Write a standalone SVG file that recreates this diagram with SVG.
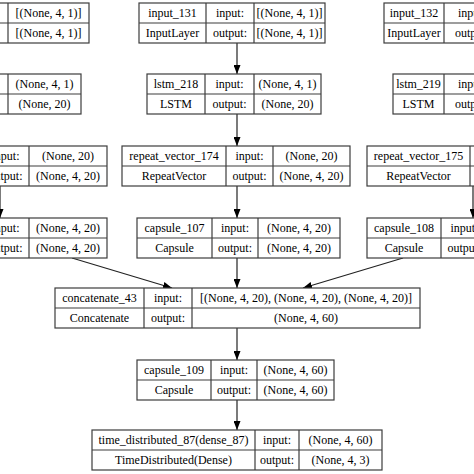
<svg xmlns="http://www.w3.org/2000/svg" width="474" height="474" viewBox="0 0 474 474">
<style>
.b{fill:#fff;stroke:#3c3c3c;stroke-width:1.2}
.d{stroke:#3c3c3c;stroke-width:1.2}
.t{font-family:"Liberation Serif","Times New Roman",serif;font-size:12px;text-anchor:middle;fill:#000}
.e{stroke:#222;stroke-width:1.2;fill:none}
</style>
<defs>
<marker id="ah" viewBox="0 0 9 7" refX="9" refY="3.5" markerWidth="9" markerHeight="7" markerUnits="userSpaceOnUse" orient="auto">
<path d="M0,0 L9,3.5 L0,7 z" fill="#000"/>
</marker>
</defs>
<rect width="474" height="474" fill="#fff"/>
<g id="connectors">
<line class="e" x1="237" y1="43" x2="237" y2="74" marker-end="url(#ah)"/>
<line class="e" x1="237" y1="114" x2="237" y2="146" marker-end="url(#ah)"/>
<line class="e" x1="237" y1="186" x2="237" y2="218" marker-end="url(#ah)"/>
<line class="e" x1="237" y1="258" x2="237" y2="288" marker-end="url(#ah)"/>
<line class="e" x1="237" y1="328" x2="237" y2="360" marker-end="url(#ah)"/>
<line class="e" x1="237" y1="400" x2="237" y2="430" marker-end="url(#ah)"/>
<line class="e" x1="0" y1="186" x2="0" y2="218" marker-end="url(#ah)"/>
<line class="e" x1="473" y1="186" x2="473" y2="218" marker-end="url(#ah)"/>
<line class="e" x1="72" y1="258" x2="172" y2="288" marker-end="url(#ah)"/>
<line class="e" x1="403" y1="258" x2="303" y2="288" marker-end="url(#ah)"/>
</g>
<g id="input_130">
<rect class="b" x="-190" y="3" width="279" height="40"/>
<line class="d" x1="-190" y1="23" x2="89" y2="23"/>
<line class="d" x1="8" y1="3" x2="8" y2="43"/>
<text class="t" x="48.5" y="17">[(None, 4, 1)]</text>
<text class="t" x="48.5" y="37">[(None, 4, 1)]</text>
</g>
<g id="lstm_217">
<rect class="b" x="-190" y="74" width="271" height="40"/>
<line class="d" x1="-190" y1="94" x2="81" y2="94"/>
<line class="d" x1="8" y1="74" x2="8" y2="114"/>
<text class="t" x="44.5" y="88">(None, 4, 1)</text>
<text class="t" x="44.5" y="108">(None, 20)</text>
</g>
<g id="repeat_vector_173">
<rect class="b" x="-190" y="146" width="297" height="40"/>
<line class="d" x1="-190" y1="166" x2="107" y2="166"/>
<line class="d" x1="-18" y1="146" x2="-18" y2="186"/>
<line class="d" x1="29" y1="146" x2="29" y2="186"/>
<text class="t" x="5.5" y="160">input:</text>
<text class="t" x="5.5" y="180">output:</text>
<text class="t" x="68" y="160">(None, 20)</text>
<text class="t" x="68" y="180">(None, 4, 20)</text>
</g>
<g id="capsule_106">
<rect class="b" x="-190" y="218" width="297" height="40"/>
<line class="d" x1="-190" y1="238" x2="107" y2="238"/>
<line class="d" x1="-18" y1="218" x2="-18" y2="258"/>
<line class="d" x1="29" y1="218" x2="29" y2="258"/>
<text class="t" x="5.5" y="232">input:</text>
<text class="t" x="5.5" y="252">output:</text>
<text class="t" x="68" y="232">(None, 4, 20)</text>
<text class="t" x="68" y="252">(None, 4, 20)</text>
</g>
<g id="input_131">
<rect class="b" x="139" y="3" width="186" height="40"/>
<line class="d" x1="139" y1="23" x2="325" y2="23"/>
<line class="d" x1="206" y1="3" x2="206" y2="43"/>
<line class="d" x1="254" y1="3" x2="254" y2="43"/>
<text class="t" x="172.5" y="17">input_131</text>
<text class="t" x="172.5" y="37">InputLayer</text>
<text class="t" x="230" y="17">input:</text>
<text class="t" x="230" y="37">output:</text>
<text class="t" x="289.5" y="17">[(None, 4, 1)]</text>
<text class="t" x="289.5" y="37">[(None, 4, 1)]</text>
</g>
<g id="lstm_218">
<rect class="b" x="147" y="74" width="174" height="40"/>
<line class="d" x1="147" y1="94" x2="321" y2="94"/>
<line class="d" x1="205" y1="74" x2="205" y2="114"/>
<line class="d" x1="254" y1="74" x2="254" y2="114"/>
<text class="t" x="176" y="88">lstm_218</text>
<text class="t" x="176" y="108">LSTM</text>
<text class="t" x="229.5" y="88">input:</text>
<text class="t" x="229.5" y="108">output:</text>
<text class="t" x="287.5" y="88">(None, 4, 1)</text>
<text class="t" x="287.5" y="108">(None, 20)</text>
</g>
<g id="repeat_vector_174">
<rect class="b" x="122" y="146" width="228" height="40"/>
<line class="d" x1="122" y1="166" x2="350" y2="166"/>
<line class="d" x1="226" y1="146" x2="226" y2="186"/>
<line class="d" x1="273" y1="146" x2="273" y2="186"/>
<text class="t" x="174" y="160">repeat_vector_174</text>
<text class="t" x="174" y="180">RepeatVector</text>
<text class="t" x="249.5" y="160">input:</text>
<text class="t" x="249.5" y="180">output:</text>
<text class="t" x="311.5" y="160">(None, 20)</text>
<text class="t" x="311.5" y="180">(None, 4, 20)</text>
</g>
<g id="capsule_107">
<rect class="b" x="137" y="218" width="203" height="40"/>
<line class="d" x1="137" y1="238" x2="340" y2="238"/>
<line class="d" x1="212" y1="218" x2="212" y2="258"/>
<line class="d" x1="258" y1="218" x2="258" y2="258"/>
<text class="t" x="174.5" y="232">capsule_107</text>
<text class="t" x="174.5" y="252">Capsule</text>
<text class="t" x="235" y="232">input:</text>
<text class="t" x="235" y="252">output:</text>
<text class="t" x="299" y="232">(None, 4, 20)</text>
<text class="t" x="299" y="252">(None, 4, 20)</text>
</g>
<g id="input_132">
<rect class="b" x="384" y="3" width="200" height="40"/>
<line class="d" x1="384" y1="23" x2="584" y2="23"/>
<line class="d" x1="444" y1="3" x2="444" y2="43"/>
<text class="t" x="414" y="17">input_132</text>
<text class="t" x="414" y="37">InputLayer</text>
<text class="t" x="472" y="17">input:</text>
<text class="t" x="472" y="37">output:</text>
</g>
<g id="lstm_219">
<rect class="b" x="393" y="74" width="200" height="40"/>
<line class="d" x1="393" y1="94" x2="593" y2="94"/>
<line class="d" x1="444" y1="74" x2="444" y2="114"/>
<text class="t" x="418.5" y="88">lstm_219</text>
<text class="t" x="418.5" y="108">LSTM</text>
<text class="t" x="472" y="88">input:</text>
<text class="t" x="472" y="108">output:</text>
</g>
<g id="repeat_vector_175">
<rect class="b" x="367" y="146" width="230" height="40"/>
<line class="d" x1="367" y1="166" x2="597" y2="166"/>
<line class="d" x1="470" y1="146" x2="470" y2="186"/>
<text class="t" x="418.5" y="160">repeat_vector_175</text>
<text class="t" x="418.5" y="180">RepeatVector</text>
</g>
<g id="capsule_108">
<rect class="b" x="367" y="218" width="210" height="40"/>
<line class="d" x1="367" y1="238" x2="577" y2="238"/>
<line class="d" x1="441" y1="218" x2="441" y2="258"/>
<text class="t" x="404" y="232">capsule_108</text>
<text class="t" x="404" y="252">Capsule</text>
<text class="t" x="464.5" y="232">input:</text>
<text class="t" x="464.5" y="252">output:</text>
</g>
<g id="concatenate_43">
<rect class="b" x="55" y="288" width="365" height="40"/>
<line class="d" x1="55" y1="308" x2="420" y2="308"/>
<line class="d" x1="144" y1="288" x2="144" y2="328"/>
<line class="d" x1="192" y1="288" x2="192" y2="328"/>
<text class="t" x="99.5" y="302">concatenate_43</text>
<text class="t" x="99.5" y="322">Concatenate</text>
<text class="t" x="168" y="302">input:</text>
<text class="t" x="168" y="322">output:</text>
<text class="t" x="306" y="302">[(None, 4, 20), (None, 4, 20), (None, 4, 20)]</text>
<text class="t" x="306" y="322">(None, 4, 60)</text>
</g>
<g id="capsule_109">
<rect class="b" x="137" y="360" width="197" height="40"/>
<line class="d" x1="137" y1="380" x2="334" y2="380"/>
<line class="d" x1="211" y1="360" x2="211" y2="400"/>
<line class="d" x1="257" y1="360" x2="257" y2="400"/>
<text class="t" x="174" y="374">capsule_109</text>
<text class="t" x="174" y="394">Capsule</text>
<text class="t" x="234" y="374">input:</text>
<text class="t" x="234" y="394">output:</text>
<text class="t" x="295.5" y="374">(None, 4, 60)</text>
<text class="t" x="295.5" y="394">(None, 4, 60)</text>
</g>
<g id="time_distributed_87">
<rect class="b" x="92" y="430" width="290" height="40"/>
<line class="d" x1="92" y1="450" x2="382" y2="450"/>
<line class="d" x1="255" y1="430" x2="255" y2="470"/>
<line class="d" x1="299" y1="430" x2="299" y2="470"/>
<text class="t" x="173.5" y="444">time_distributed_87(dense_87)</text>
<text class="t" x="173.5" y="464">TimeDistributed(Dense)</text>
<text class="t" x="277" y="444">input:</text>
<text class="t" x="277" y="464">output:</text>
<text class="t" x="340.5" y="444">(None, 4, 60)</text>
<text class="t" x="340.5" y="464">(None, 4, 3)</text>
</g>
</svg>
